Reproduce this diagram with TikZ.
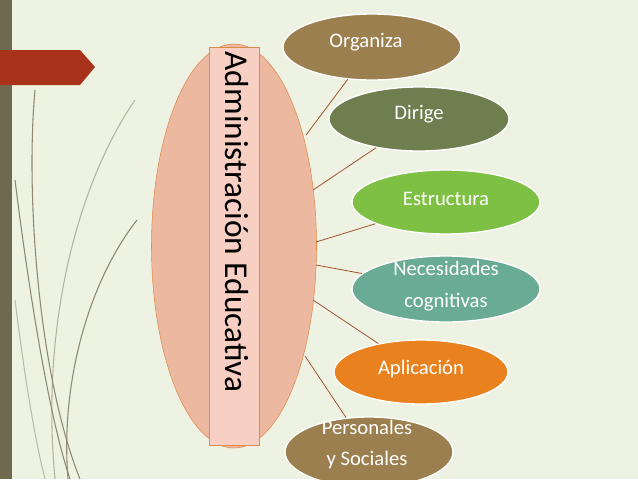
\documentclass[tikz,border=0pt]{standalone}
\usepackage{fontspec}
\setmainfont{Carlito}
\usetikzlibrary{shapes.geometric}
\definecolor{bg}{HTML}{EEF2E2}
\definecolor{bar}{HTML}{6F6A4F}
\definecolor{redar}{HTML}{A8321A}
\definecolor{big}{HTML}{EDB8A0}
\definecolor{bigline}{HTML}{E08A4A}
\definecolor{rectf}{HTML}{F7CFC3}
\definecolor{cbrown}{HTML}{9C7F4F}
\definecolor{colive}{HTML}{6E7E4F}
\definecolor{cgreen}{HTML}{7EC044}
\definecolor{cteal}{HTML}{6AAB96}
\definecolor{corange}{HTML}{E9821E}
\definecolor{conn}{HTML}{A0522D}
\begin{document}
\begin{tikzpicture}[x=0.75pt,y=-0.75pt,
  leaf/.style={ellipse,draw=white,line width=1pt,minimum width=180*0.75pt,minimum height=64*0.75pt,inner sep=0pt},
  lbl/.style={text=white,font=\fontsize{15.5}{18}\selectfont},
  conn/.style={draw=conn,line width=0.6pt},
  deco/.style={draw=bar!80,line width=0.8pt}]
\fill[bg] (0,0) rectangle (638,479);
\useasboundingbox (0,0) rectangle (638,479);
\fill[bar] (0,0) rectangle (12,479);
\fill[redar] (0,50) -- (80,50) -- (95,67) -- (80,85) -- (0,85) -- cycle;
\draw[deco] (35,90) .. controls (25,200) and (40,380) .. (80,479);
\draw[deco] (15,180) .. controls (30,300) and (50,420) .. (70,479);
\draw[deco,opacity=0.6] (135,100) .. controls (80,180) and (40,320) .. (55,479);
\draw[deco] (137,220) .. controls (90,280) and (60,380) .. (68,479);
\draw[deco,opacity=0.5] (15,300) .. controls (25,380) and (35,440) .. (45,479);
\node[ellipse,draw=bigline,fill=big,minimum width=165*0.75pt,minimum height=404*0.75pt,inner sep=0pt] (big) at (234,246) {};
\node[draw=bigline,fill=rectf,minimum width=50*0.75pt,minimum height=398*0.75pt,inner sep=0pt] (rect) at (234,246) {};
\node[rotate=-90,font=\fontsize{25}{28}\selectfont] (title) at (237,222) {Administración Educativa};
\node[leaf,fill=cbrown,minimum width=178*0.75pt,minimum height=66*0.75pt] (org) at (372,47) {};
\node[lbl] (orgt) at (366,42) {Organiza};
\node[leaf,fill=colive] (dir) at (419,119) {};
\node[lbl] (dirt) at (419,114) {Dirige};
\node[leaf,fill=cgreen,minimum width=188*0.75pt] (est) at (446,202) {};
\node[lbl] (estt) at (446,199) {Estructura};
\node[leaf,fill=cteal,minimum width=188*0.75pt,minimum height=66*0.75pt] (nec) at (446,289) {};
\node[lbl] (nect1) at (446,268) {Necesidades};
\node[lbl] (nect2) at (446,302) {cognitivas};
\node[leaf,fill=corange,minimum width=174*0.75pt] (apl) at (421,372) {};
\node[lbl] (aplt) at (421,369) {Aplicación};
\node[leaf,fill=cbrown,minimum width=168*0.75pt,minimum height=70*0.75pt] (per) at (369,452) {};
\node[lbl] (pert1) at (367,427) {Personales};
\node[lbl] (pert2) at (367,460) {y Sociales};
\coordinate (b1) at (306,135);
\coordinate (b2) at (313,190);
\coordinate (b3) at (316,242);
\coordinate (b4) at (316,265);
\coordinate (b5) at (313,300);
\coordinate (b6) at (305,356);
\draw[conn] (b1) -- (org);
\draw[conn] (b2) -- (dir);
\draw[conn] (b3) -- (est);
\draw[conn] (b4) -- (nec);
\draw[conn] (b5) -- (apl);
\draw[conn] (b6) -- (per);
\end{tikzpicture}
\end{document}
